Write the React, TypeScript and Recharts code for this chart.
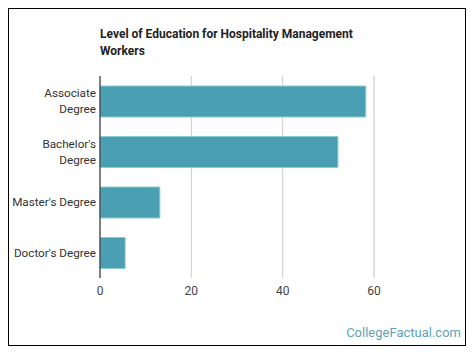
import { BarChart, Bar, XAxis, YAxis, CartesianGrid } from "recharts";

const categories = ["Associate Degree", "Bachelor's Degree", "Master's Degree", "Doctor's Degree"];
const shares = [58.2, 52.1, 13.1, 5.5];
const majorTicks = [0, 20, 40, 60];
const minorTicks = [10, 30, 50];
const xMax = 60;

const data = categories.map((name, i) => ({ name, value: shares[i] }));

function splitLabel(label: string): string[] {
  if (label.length <= 15) return [label];
  const cut = label.lastIndexOf(" ");
  return [label.slice(0, cut), label.slice(cut + 1)];
}

function CategoryTick({ x, y, payload }: any) {
  const lines = splitLabel(payload.value);
  const lh = 16;
  const start = y - ((lines.length - 1) * lh) / 2;
  return (
    <text x={x - 2} y={start} textAnchor="end" fill="#333" fontSize={11.7} fontFamily="Roboto">
      {lines.map((l, i) => (
        <tspan key={i} x={x - 2} y={start + i * lh} dy="0.36em">
          {l}
        </tspan>
      ))}
    </text>
  );
}

export default function App() {
  return (
    <div
      style={{
        position: "relative",
        width: 456,
        height: 336,
        border: "1px solid #000",
        fontFamily: "Roboto, sans-serif",
        background: "#fff",
      }}
    >
      <div
        style={{
          position: "absolute",
          left: 91,
          top: 17,
          width: 270,
          fontSize: 12,
          fontWeight: 700,
          lineHeight: "17px",
          color: "#222",
        }}
      >
        Level of Education for Hospitality Management Workers
      </div>
      <BarChart
        width={456}
        height={336}
        data={data}
        layout="vertical"
        margin={{ top: 67, right: 91, bottom: 37, left: 0 }}
      >
        <CartesianGrid xAxisId="minor" horizontal={false} stroke="#e8e8e8" />
        <CartesianGrid horizontal={false} stroke="#cccccc" />
        <XAxis xAxisId="minor" type="number" domain={[0, xMax]} ticks={minorTicks} hide />
        <XAxis
          type="number"
          domain={[0, xMax]}
          ticks={majorTicks}
          axisLine={false}
          tickLine={false}
          tick={{ fill: "#444", fontSize: 12, fontFamily: "Roboto" }}
        />
        <YAxis
          type="category"
          dataKey="name"
          width={91}
          axisLine={{ stroke: "#222" }}
          tickLine={false}
          tickSize={0}
          tick={<CategoryTick />}
        />
        <Bar dataKey="value" fill="#4a9fb3" stroke="#8ccad6" strokeWidth={1} barSize={31} isAnimationActive={false} />
      </BarChart>
      <div
        style={{
          position: "absolute",
          right: 4,
          top: 316,
          fontSize: 13,
          color: "#5fa3b6",
        }}
      >
        CollegeFactual.com
      </div>
    </div>
  );
}
